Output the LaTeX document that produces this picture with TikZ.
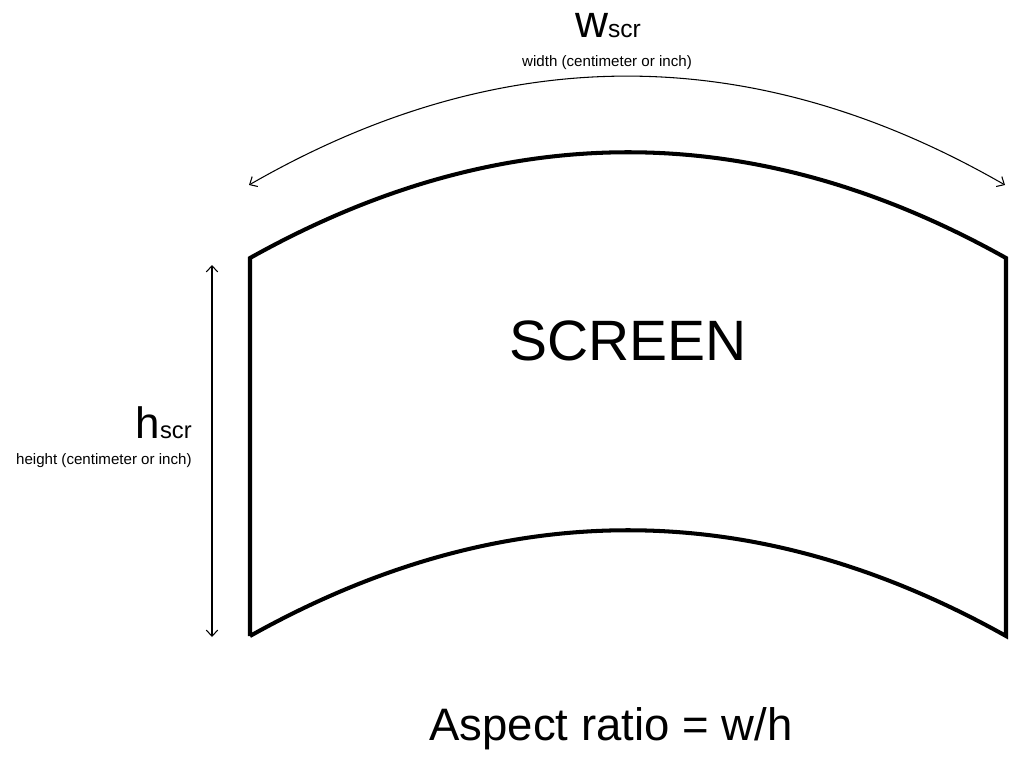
\documentclass[tikz,border=0pt]{standalone}
\usepackage{fontspec}
\setmainfont{Liberation Sans}
\usetikzlibrary{arrows.meta}

\begin{document}
\begin{tikzpicture}[x=0.02cm, y=-0.02cm,
    screenline/.style={line width=2.3pt, line join=miter},
    dimline/.style={line width=0.6pt, {Straight Barb[length=3.5pt,width=6.5pt]}-{Straight Barb[length=3.5pt,width=6.5pt]}},
    biglabel/.style={inner sep=0pt, anchor=base},
    smalllabel/.style={inner sep=0pt, anchor=base, font=\fontsize{8.6}{10}\selectfont}]
    \useasboundingbox (0,0) rectangle (1031,768);

    % Screen corners
    \coordinate (top_left) at (250,258);
    \coordinate (top_right) at (1006,258);
    \coordinate (bottom_left) at (250,636);
    \coordinate (bottom_right) at (1006,636);

    % Screen
    \draw[screenline] (bottom_left) -- (top_left)
        .. controls (502,117) and (754,117) .. (top_right)
        -- (bottom_right)
        .. controls (754,495) and (502,495) .. (bottom_left);

    % Dimension ends
    \coordinate (width_left) at (249,185);
    \coordinate (width_right) at (1005,185);
    \coordinate (height_top) at (212,265);
    \coordinate (height_bottom) at (212,637);

    % Arrows
    \draw[dimline] (width_left) .. controls (501,40) and (753,40) .. (width_right);
    \draw[dimline] (height_top) -- (height_bottom);

    % Nodes
    \node[biglabel] (w_scr) at (608,37) {\fontsize{26}{30}\selectfont w\fontsize{14}{16}\selectfont scr};
    \node[smalllabel] (width_text) at (607,66) {width (centimeter or inch)};
    \node[biglabel, anchor=base east] (h_scr) at (192,438) {\fontsize{25}{30}\selectfont h\fontsize{13.5}{16}\selectfont scr};
    \node[smalllabel, anchor=base east] (height_text) at (192,464) {height (centimeter or inch)};
    \node[biglabel, font=\fontsize{32.4}{38}\selectfont] (screen_text) at (628,360) {SCREEN};
    \node[biglabel, font=\fontsize{25.9}{30}\selectfont] (aspect_text) at (611,740) {Aspect ratio = w/h};
\end{tikzpicture}
\end{document}
